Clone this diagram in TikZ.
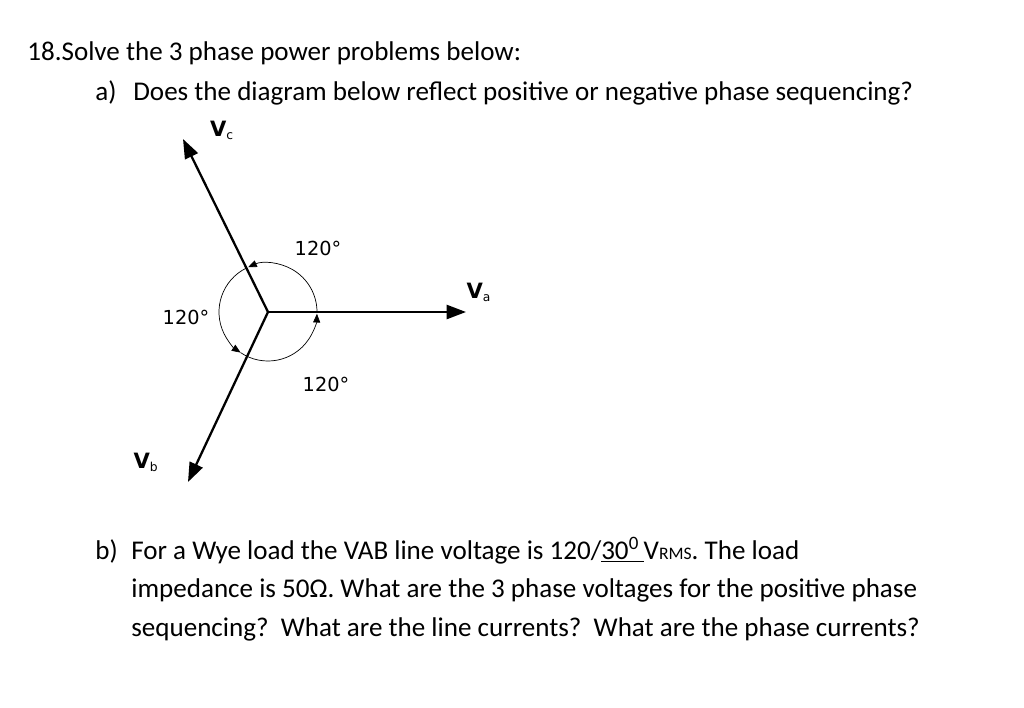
\documentclass[tikz,border=0pt]{standalone}
\usepackage{fontspec}
\setmainfont{Carlito}
\newfontfamily\lblfont{DejaVu Sans}
\usetikzlibrary{arrows.meta}
\begin{document}
\begin{tikzpicture}[x=0.02cm,y=-0.02cm]
  \tikzstyle{txt}=[anchor=base west,inner sep=0pt,font=\fontsize{15.4}{18}\selectfont]
  \tikzstyle{phasor}=[-{Triangle[length=11pt,width=8pt]},line width=1.3pt]
  \tikzstyle{turn}=[-{Triangle[length=5pt,width=4pt]},line width=0.4pt]
  \tikzstyle{deg}=[font=\lblfont\fontsize{11}{13}\selectfont]
  \tikzstyle{vlbl}=[font=\lblfont\fontsize{12}{14}\selectfont]
  \useasboundingbox (0,0) rectangle (1024,707);

  % question text
  \node[txt] (q18) at (27,60) {18.Solve the 3 phase power problems below:};
  \node[txt] (qa) at (95,100) {a)};
  \node[txt] (qat) at (133,100) {Does the diagram below reflect positive or negative phase sequencing?};

  % phasors
  \coordinate (n) at (268,312);
  \coordinate (va) at (466,312);
  \coordinate (vc) at (183,139);
  \coordinate (vb) at (188,482);
  \draw[phasor] (n) -- (va);
  \draw[phasor] (n) -- (vc);
  \draw[phasor] (n) -- (vb);
  \node[vlbl] (lva) at (479,292) {\textbf{V}\textsubscript{\scriptsize a}};
  \node[vlbl] (lvc) at (222,130) {\textbf{V}\textsubscript{\scriptsize c}};
  \node[vlbl] (lvb) at (146,462) {\textbf{V}\textsubscript{\scriptsize b}};

  % rotation arcs
  \draw[turn] (n) ++(0:49) arc[start angle=0,end angle=-114,radius=49];
  \draw[turn] (n) ++(-116:49) arc[start angle=-116,end angle=-236,radius=49];
  \draw[turn] (n) ++(-236:49) arc[start angle=-236,end angle=-358,radius=49];
  \node[deg] (d1) at (318,248) {120°};
  \node[deg] (d2) at (186,317) {120°};
  \node[deg] (d3) at (326,384) {120°};

  % part b
  \node[txt] (qb) at (95,559) {b)};
  \node[txt] (qbt) at (131,559) {For a Wye load the VAB line voltage is 120/\underline{30\textsuperscript{0}\,}V{\fontsize{10}{12}\selectfont RMS}. The load};
  \node[txt] (qb2) at (131,597) {impedance is 50Ω. What are the 3 phase voltages for the positive phase};
  \node[txt] (qb3) at (131,636) {sequencing?\ \ What are the line currents?\ \ What are the phase currents?};
\end{tikzpicture}
\end{document}
